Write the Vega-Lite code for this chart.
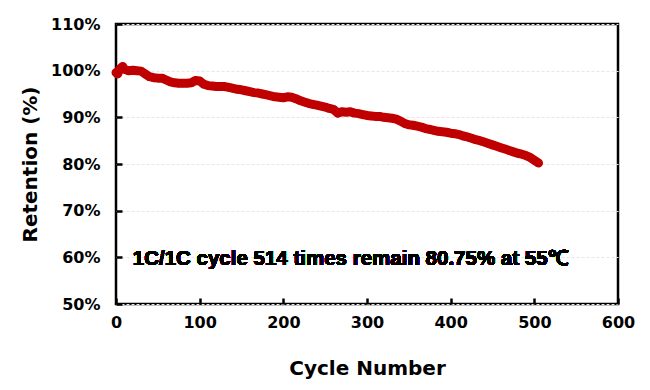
{
  "$schema": "https://vega.github.io/schema/vega-lite/v6.json",
  "width": 502,
  "height": 280,
  "autosize": {"type": "none"},
  "padding": {"left": 116, "top": 24, "right": 32, "bottom": 86},
  "background": "white",
  "config": {
    "view": {"stroke": "black", "strokeWidth": 2.5},
    "axis": {
      "labelFont": "DejaVu Sans",
      "labelFontWeight": "bold",
      "labelFontSize": 16,
      "labelColor": "black",
      "titleFont": "DejaVu Sans",
      "titleFontWeight": "bold",
      "titleFontSize": 20,
      "titleColor": "black",
      "domain": false,
      "tickColor": "black",
      "tickWidth": 2.5,
      "tickSize": 6
    }
  },
  "data": {
    "values": [
      {"cycle": 0, "retention": 99.6}, {"cycle": 2, "retention": 99.3}, {"cycle": 4, "retention": 100.2},
      {"cycle": 6, "retention": 100.6}, {"cycle": 8, "retention": 100.9}, {"cycle": 10, "retention": 100.3},
      {"cycle": 15, "retention": 100.0}, {"cycle": 20, "retention": 100.1}, {"cycle": 25, "retention": 100.0},
      {"cycle": 30, "retention": 99.9}, {"cycle": 35, "retention": 99.3}, {"cycle": 40, "retention": 98.7},
      {"cycle": 45, "retention": 98.5}, {"cycle": 50, "retention": 98.4}, {"cycle": 55, "retention": 98.4},
      {"cycle": 60, "retention": 98.0}, {"cycle": 65, "retention": 97.6}, {"cycle": 70, "retention": 97.4},
      {"cycle": 75, "retention": 97.3}, {"cycle": 80, "retention": 97.3}, {"cycle": 85, "retention": 97.3},
      {"cycle": 90, "retention": 97.4}, {"cycle": 95, "retention": 97.9}, {"cycle": 100, "retention": 97.8},
      {"cycle": 105, "retention": 97.1}, {"cycle": 110, "retention": 96.8}, {"cycle": 115, "retention": 96.7},
      {"cycle": 120, "retention": 96.6}, {"cycle": 125, "retention": 96.6}, {"cycle": 130, "retention": 96.6},
      {"cycle": 135, "retention": 96.4}, {"cycle": 140, "retention": 96.2}, {"cycle": 145, "retention": 96.0},
      {"cycle": 150, "retention": 95.9}, {"cycle": 155, "retention": 95.7}, {"cycle": 160, "retention": 95.5},
      {"cycle": 165, "retention": 95.3}, {"cycle": 170, "retention": 95.2}, {"cycle": 175, "retention": 95.0},
      {"cycle": 180, "retention": 94.8}, {"cycle": 185, "retention": 94.6}, {"cycle": 190, "retention": 94.4},
      {"cycle": 195, "retention": 94.3}, {"cycle": 200, "retention": 94.2}, {"cycle": 205, "retention": 94.4},
      {"cycle": 210, "retention": 94.3}, {"cycle": 215, "retention": 94.0}, {"cycle": 220, "retention": 93.6},
      {"cycle": 225, "retention": 93.3}, {"cycle": 230, "retention": 93.0}, {"cycle": 235, "retention": 92.8},
      {"cycle": 240, "retention": 92.6}, {"cycle": 245, "retention": 92.4}, {"cycle": 250, "retention": 92.2},
      {"cycle": 255, "retention": 91.9}, {"cycle": 260, "retention": 91.7}, {"cycle": 265, "retention": 90.9},
      {"cycle": 270, "retention": 91.2}, {"cycle": 275, "retention": 91.1}, {"cycle": 280, "retention": 91.2},
      {"cycle": 285, "retention": 90.9}, {"cycle": 290, "retention": 90.8}, {"cycle": 295, "retention": 90.6},
      {"cycle": 300, "retention": 90.4}, {"cycle": 305, "retention": 90.3}, {"cycle": 310, "retention": 90.2},
      {"cycle": 315, "retention": 90.2}, {"cycle": 320, "retention": 90.0}, {"cycle": 325, "retention": 89.9},
      {"cycle": 330, "retention": 89.8}, {"cycle": 335, "retention": 89.6}, {"cycle": 340, "retention": 89.2},
      {"cycle": 345, "retention": 88.7}, {"cycle": 350, "retention": 88.4}, {"cycle": 355, "retention": 88.3},
      {"cycle": 360, "retention": 88.1}, {"cycle": 365, "retention": 87.9}, {"cycle": 370, "retention": 87.6},
      {"cycle": 375, "retention": 87.4}, {"cycle": 380, "retention": 87.2}, {"cycle": 385, "retention": 87.0},
      {"cycle": 390, "retention": 86.9}, {"cycle": 395, "retention": 86.8}, {"cycle": 400, "retention": 86.6},
      {"cycle": 405, "retention": 86.5}, {"cycle": 410, "retention": 86.3}, {"cycle": 415, "retention": 86.0},
      {"cycle": 420, "retention": 85.8}, {"cycle": 425, "retention": 85.5}, {"cycle": 430, "retention": 85.2},
      {"cycle": 435, "retention": 85.0}, {"cycle": 440, "retention": 84.7}, {"cycle": 445, "retention": 84.4},
      {"cycle": 450, "retention": 84.1}, {"cycle": 455, "retention": 83.8}, {"cycle": 460, "retention": 83.5},
      {"cycle": 465, "retention": 83.2}, {"cycle": 470, "retention": 82.9}, {"cycle": 475, "retention": 82.6},
      {"cycle": 480, "retention": 82.3}, {"cycle": 485, "retention": 82.1}, {"cycle": 490, "retention": 81.8},
      {"cycle": 495, "retention": 81.4}, {"cycle": 500, "retention": 80.8}, {"cycle": 505, "retention": 80.2}
    ]
  },
  "layer": [
    {
      "mark": {"type": "line", "color": "#C00000", "strokeWidth": 9, "strokeCap": "round", "strokeJoin": "round"},
      "encoding": {
        "x": {
          "field": "cycle", "type": "quantitative",
          "scale": {"domain": [0, 600], "nice": false},
          "axis": {"orient": "bottom", "offset": -6, "values": [0, 100, 200, 300, 400, 500, 600], "grid": false, "labelFlush": false, "labelPadding": 10, "title": "Cycle Number", "titlePadding": 28}
        },
        "y": {
          "field": "retention", "type": "quantitative",
          "scale": {"domain": [50, 110], "nice": false, "zero": false},
          "axis": {"orient": "left", "offset": -6, "values": [50, 60, 70, 80, 90, 100, 110], "labelExpr": "datum.value + '%'", "labelFlush": false, "grid": true, "gridColor": "#e6e6e6", "gridDash": [3, 2], "gridWidth": 1, "labelPadding": 16, "title": "Retention (%)", "titlePadding": 10}
        }
      }
    },
    {
      "mark": {"type": "circle", "color": "#C00000", "size": 60, "opacity": 1},
      "encoding": {
        "x": {"field": "cycle", "type": "quantitative"},
        "y": {"field": "retention", "type": "quantitative"}
      }
    },
    {
      "mark": {"type": "text", "text": "1C/1C cycle 514 times remain 80.75%  at 55℃", "font": "Liberation Sans", "fontWeight": "bold", "fontSize": 20.5, "align": "left", "baseline": "middle", "color": "black"},
      "encoding": {
        "x": {"datum": 20},
        "y": {"datum": 59.7}
      }
    }
  ]
}
